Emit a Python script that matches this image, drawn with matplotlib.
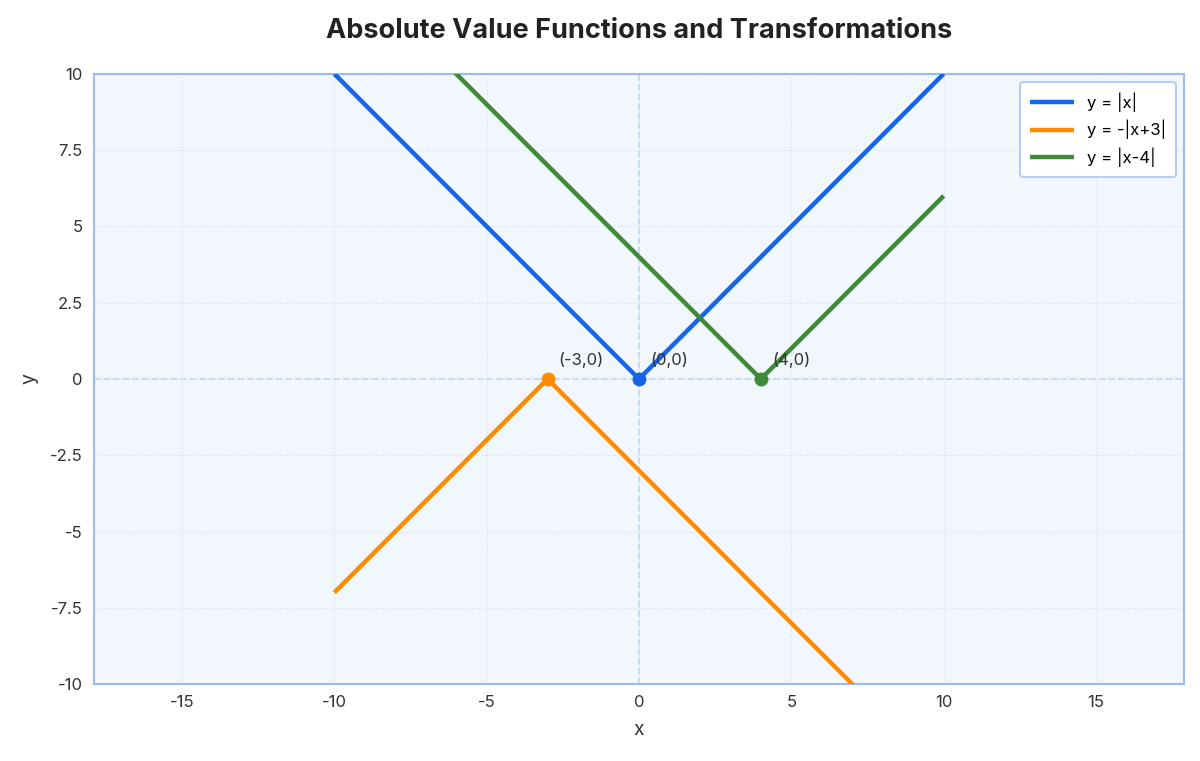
import numpy as np
import matplotlib
matplotlib.use("Agg")
import matplotlib.pyplot as plt

plt.rcParams['font.family'] = ['Inter', 'DejaVu Sans']
plt.rcParams['axes.unicode_minus'] = False

x_domain = [-10, 0, 10]
labels = ['y = |x|', 'y = -|x+3|', 'y = |x-4|']
shifts = [0, -3, 4]
signs = [1, -1, 1]
colors = ['#1565e8', '#ff8c00', '#3d8b37']
vertex_labels = ['(0,0)', '(-3,0)', '(4,0)']

fig = plt.figure(figsize=(12, 7.61), dpi=100)
ax = fig.add_axes([0.078, 0.101, 0.909, 0.802])
ax.set_facecolor('#f2f7fd')

for lab, h, s, c, vl in zip(labels, shifts, signs, colors, vertex_labels):
    xs = np.array(sorted(set([-10, h, 10])), dtype=float)
    ys = s * np.abs(xs - h)
    ax.plot(xs, ys, color=c, lw=3.2, label=lab, solid_capstyle='butt', zorder=3)
    ax.plot([h], [0], 'o', color=c, ms=9, zorder=4)
    ax.annotate(vl, (h, 0), xytext=(8, 10), textcoords='offset points',
                fontsize=12, color='#333333')

ax.axhline(0, color='#c5d8f5', lw=1.3, ls='--', zorder=1)
ax.axvline(0, color='#c5d8f5', lw=1.3, ls='--', zorder=1)
ax.grid(True, color='#d6e2f2', ls=':', lw=0.9)
ax.set_axisbelow(True)

ax.set_xlim(-17.9, 17.9)
ax.set_ylim(-10, 10)
ax.set_xticks([-15, -10, -5, 0, 5, 10, 15])
ax.set_yticks([-10, -7.5, -5, -2.5, 0, 2.5, 5, 7.5, 10])
ax.set_yticklabels(['-10', '-7.5', '-5', '-2.5', '0', '2.5', '5', '7.5', '10'])
ax.tick_params(length=0, labelsize=12, labelcolor='#333333', pad=8)
for sp in ax.spines.values():
    sp.set_color('#99bbee')
    sp.set_linewidth(1.5)

ax.set_xlabel('x', fontsize=14, color='#333333', labelpad=8)
ax.set_ylabel('y', fontsize=14, color='#333333', labelpad=8)
ax.set_title('Absolute Value Functions and Transformations', fontsize=19.5,
             fontweight='bold', color='#222222', pad=26)

leg = ax.legend(loc='upper right', fontsize=12, frameon=True, fancybox=True,
                edgecolor='#b5cdf2', facecolor='white', framealpha=1,
                handlelength=2.6, borderpad=0.6)
leg.get_frame().set_linewidth(1.5)

fig.savefig('out.png', dpi=100)
